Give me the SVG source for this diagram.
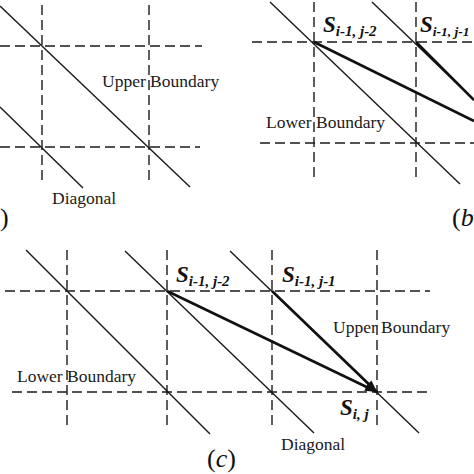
<svg xmlns="http://www.w3.org/2000/svg" width="474" height="474" viewBox="0 0 474 474">
<style>
.dash{stroke:#1a1a1a;stroke-width:1.4;stroke-dasharray:10 5;fill:none}
.diag{stroke:#1a1a1a;stroke-width:1.4;fill:none}
.thick{stroke:#111;stroke-width:2.6;fill:none}
.lbl{font-family:"Liberation Serif","Times New Roman",serif;font-size:17.5px;fill:#1a1a1a}
.s{font-family:"Liberation Serif","Times New Roman",serif;font-weight:bold;font-style:italic;font-size:23px;fill:#111}
.sub{font-size:15px}
.cap{font-family:"Liberation Serif","Times New Roman",serif;font-size:26px;fill:#111}
</style>
<defs>
<marker id="arrow" markerUnits="userSpaceOnUse" markerWidth="14" markerHeight="10" refX="12" refY="4.5" orient="auto">
<path d="M0,0 L12,4.5 L0,9 z" fill="#111"/>
</marker>
</defs>
<rect width="474" height="474" fill="#fff"/>

<g id="panel-a">
<g id="grid-a">
<line class="dash" x1="42" y1="5" x2="42" y2="185"/>
<line class="dash" x1="149" y1="5" x2="149" y2="185"/>
<line class="dash" x1="0" y1="46" x2="202" y2="46"/>
<line class="dash" x1="0" y1="147" x2="200" y2="147"/>
<line class="diag" x1="0" y1="6" x2="190" y2="187"/>
<line class="diag" x1="0" y1="107" x2="83" y2="188"/>
</g>
<text class="lbl" x="102" y="87">Upper Boundary</text>
<text class="lbl" x="52" y="204">Diagonal</text>
<text class="cap" x="0" y="226" font-size="22">)</text>
</g>

<g id="panel-b">
<g id="grid-b">
<line class="dash" x1="314" y1="2" x2="314" y2="181"/>
<line class="dash" x1="416" y1="2" x2="416" y2="181"/>
<line class="dash" x1="252" y1="42" x2="474" y2="42"/>
<line class="dash" x1="260" y1="143" x2="474" y2="143"/>
<line class="diag" x1="270" y1="2" x2="460" y2="184"/>
<line class="diag" x1="372" y1="2" x2="474" y2="100"/>
</g>
<g id="connectors-b">
<line class="thick" x1="314" y1="42" x2="474" y2="121"/>
<line class="thick" x1="416" y1="42" x2="474" y2="100"/>
</g>
<text class="s" x="323" y="32">S<tspan class="sub" dy="4">i-1, j-2</tspan></text>
<text class="s" x="420" y="32">S<tspan font-size="13.5px" dy="4">i-1, j-1</tspan></text>
<text class="lbl" x="266" y="128">Lower Boundary</text>
<text class="cap" x="452" y="226" font-size="21">(<tspan font-style="italic">b</tspan></text>
</g>

<g id="panel-c">
<g id="grid-c">
<line class="dash" x1="67" y1="250" x2="67" y2="430"/>
<line class="dash" x1="167" y1="250" x2="167" y2="430"/>
<line class="dash" x1="272" y1="250" x2="272" y2="430"/>
<line class="dash" x1="377" y1="250" x2="377" y2="430"/>
<line class="dash" x1="5" y1="291" x2="430" y2="291"/>
<line class="dash" x1="12" y1="392" x2="430" y2="392"/>
<line class="diag" x1="26" y1="250" x2="210" y2="434"/>
<line class="diag" x1="125" y1="251" x2="314" y2="433"/>
<line class="diag" x1="230" y1="251" x2="419" y2="433"/>
</g>
<g id="connectors-c">
<line class="thick" x1="167" y1="291" x2="377" y2="392" marker-end="url(#arrow)"/>
<line class="thick" x1="272" y1="291" x2="377" y2="392" marker-end="url(#arrow)"/>
</g>
<text class="s" x="176" y="282">S<tspan class="sub" dy="4">i-1, j-2</tspan></text>
<text class="s" x="282" y="282">S<tspan class="sub" dy="4">i-1, j-1</tspan></text>
<text class="s" x="340" y="415">S<tspan class="sub" dy="4">i, j</tspan></text>
<text class="lbl" x="333" y="333">Upper Boundary</text>
<text class="lbl" x="17" y="382">Lower Boundary</text>
<text class="lbl" x="281" y="450">Diagonal</text>
<text class="cap" x="207" y="467">(<tspan font-style="italic">c</tspan>)</text>
</g>
</svg>
